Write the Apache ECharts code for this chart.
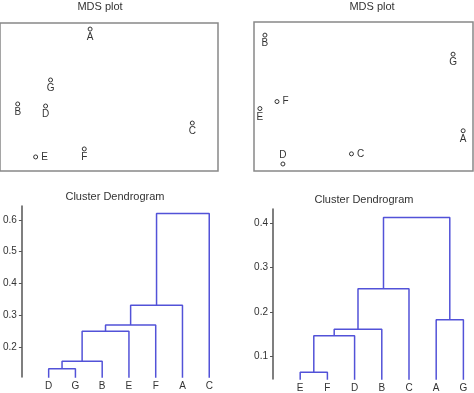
<!DOCTYPE html>
<html><head><meta charset="utf-8">
<script src="https://cdn.jsdelivr.net/npm/echarts@6/dist/echarts.min.js"></script>
<style>html,body{margin:0;padding:0;background:#fff}#c{width:474px;height:393px}</style>
</head><body><div id="c"></div>
<script>
// MDS plot 1 (normalized coordinates)
const mds1Labels = ['A','G','B','D','C','F','E'];
const mds1X = [0.408,0.225,0.073,0.202,0.881,0.381,0.156];
const mds1Y = [0.959,0.615,0.453,0.439,0.324,0.149,0.095];
const mds1Pos = ['bottom','bottom','bottom','bottom','bottom','bottom','right'];
// MDS plot 2
const mds2Labels = ['B','G','F','E','A','C','D'];
const mds2X = [0.050,0.909,0.105,0.027,0.955,0.445,0.132];
const mds2Y = [0.912,0.784,0.466,0.419,0.270,0.115,0.047];
const mds2Pos = ['bottom','bottom','right','bottom','bottom','right','top'];

// Dendrogram 1: leaf order and merges [leftNode, rightNode, height]
const dend1Leaves = ['D','G','B','E','F','A','C'];
const dend1Merges = [['D','G',0.131],[0,'B',0.155],[1,'E',0.249],[2,'F',0.269],[3,'A',0.331],[4,'C',0.620]];
const dend1Ticks = [0.2,0.3,0.4,0.5,0.6];
// Dendrogram 2
const dend2Leaves = ['E','F','D','B','C','A','G'];
const dend2Merges = [['E','F',0.064],[0,'D',0.146],[1,'B',0.161],[2,'C',0.252],['A','G',0.182],[3,4,0.412]];
const dend2Ticks = [0.1,0.2,0.3,0.4];

const txt = '#333';
const blue = '#5252d8';
const font = 'Liberation Sans, Arial, sans-serif';

function dendroSeries(leaves, merges, xi, yi) {
  const pos = {}; const ht = {};
  leaves.forEach((l,i)=>{pos[l]=i+1; ht[l]=null;});
  const series = [];
  merges.forEach((m,k)=>{
    const a=m[0], b=m[1], h=m[2];
    const xa=pos[a], xb=pos[b];
    const ha = ht[a], hb = ht[b];
    series.push({
      type:'line', xAxisIndex:xi, yAxisIndex:yi, symbol:'none', silent:true,
      lineStyle:{color:blue,width:1.5}, animation:false,
      data:[[xa, ha===null? -1 : ha],[xa,h],[xb,h],[xb, hb===null? -1 : hb]],
      clip:true
    });
    pos[k]=(xa+xb)/2; ht[k]=h;
  });
  return series;
}

function scatter(labels, xs, ys, poss, xi, yi) {
  return {
    type:'scatter', xAxisIndex:xi, yAxisIndex:yi, symbol:'circle', symbolSize:4,
    itemStyle:{color:'#fff', borderColor:'#333', borderWidth:1, opacity:1}, animation:false,
    data: labels.map((l,i)=>({value:[xs[i],ys[i]], name:l,
      label:{show:true, position:poss[i], distance:poss[i]==='right'?3:1, formatter:l, color:txt, fontSize:10, fontFamily:font}}))
  };
}

const hidden = {show:false};
const tstyle = {fontSize:11, fontWeight:'normal', color:txt, fontFamily:font};
const chart = echarts.init(document.getElementById('c'), null, {renderer:'canvas'});
chart.setOption({
  animation:false,
  title:[
    {text:'MDS plot', left:100, top:1, padding:0, textAlign:'center', textStyle:tstyle},
    {text:'MDS plot', left:372, top:1, padding:0, textAlign:'center', textStyle:tstyle},
    {text:'Cluster Dendrogram', left:115, top:191, padding:0, textAlign:'center', textStyle:tstyle},
    {text:'Cluster Dendrogram', left:364, top:194, padding:0, textAlign:'center', textStyle:tstyle}
  ],
  grid:[
    {left:-2, top:23, width:220, height:148, show:true, borderColor:'#888', borderWidth:1.5, backgroundColor:'#fff'},
    {left:254, top:22, width:219, height:149, show:true, borderColor:'#888', borderWidth:1.5, backgroundColor:'#fff'},
    {left:20, top:206, width:216, height:171},
    {left:273, top:209, width:201, height:170}
  ],
  xAxis:[
    {gridIndex:0, type:'value', min:-0.009, max:1.0, show:false},
    {gridIndex:1, type:'value', min:0, max:1, show:false},
    {gridIndex:2, type:'value', min:0, max:8, interval:1, axisLine:hidden, axisTick:hidden, splitLine:hidden,
      axisLabel:{margin:4, color:txt, fontSize:10, fontFamily:font, showMinLabel:false, showMaxLabel:false,
        formatter:v=>dend1Leaves[v-1]||''}},
    {gridIndex:3, type:'value', min:0, max:7.39, axisLine:hidden, axisTick:hidden, splitLine:hidden,
      axisLabel:{margin:4, color:txt, fontSize:10, fontFamily:font, customValues:[1,2,3,4,5,6,7],
        formatter:v=>dend2Leaves[Math.round(v)-1]||''}}
  ],
  yAxis:[
    {gridIndex:0, type:'value', min:0, max:1, show:false},
    {gridIndex:1, type:'value', min:0, max:1, show:false},
    {gridIndex:2, type:'value', min:0.105, max:0.644, splitLine:hidden,
      axisLine:{show:true, lineStyle:{color:'#555', width:1.5}},
      axisTick:{show:true, length:3, customValues:dend1Ticks, lineStyle:{color:'#555'}},
      axisLabel:{customValues:dend1Ticks, color:txt, fontSize:10, fontFamily:font, margin:5, formatter:v=>v.toFixed(1)}},
    {gridIndex:3, type:'value', min:0.049, max:0.431, splitLine:hidden,
      axisLine:{show:true, lineStyle:{color:'#555', width:1.5}},
      axisTick:{show:true, length:3, customValues:dend2Ticks, lineStyle:{color:'#555'}},
      axisLabel:{customValues:dend2Ticks, color:txt, fontSize:10, fontFamily:font, margin:5, formatter:v=>v.toFixed(1)}}
  ],
  series:[
    scatter(mds1Labels, mds1X, mds1Y, mds1Pos, 0, 0),
    scatter(mds2Labels, mds2X, mds2Y, mds2Pos, 1, 1),
    ...dendroSeries(dend1Leaves, dend1Merges, 2, 2),
    ...dendroSeries(dend2Leaves, dend2Merges, 3, 3)
  ]
});
</script></body></html>
